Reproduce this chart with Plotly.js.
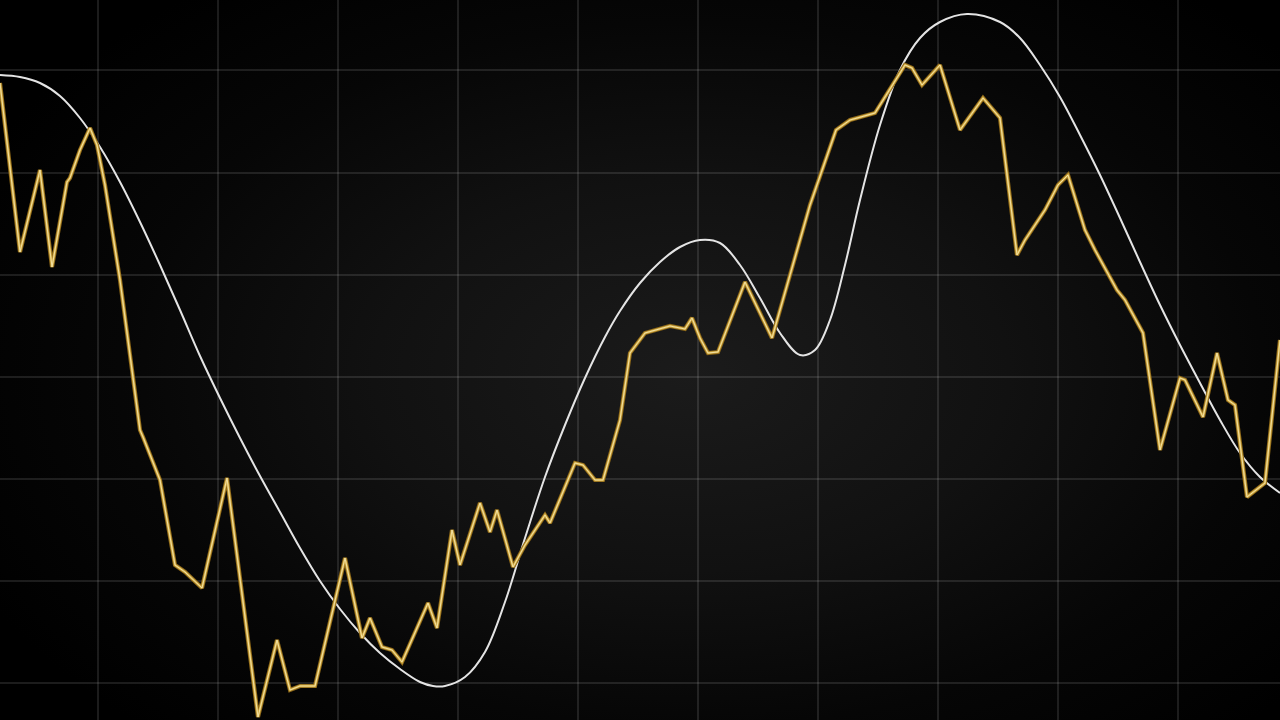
<!DOCTYPE html>
<html>
<head>
<meta charset="utf-8">
<script src="https://cdn.plot.ly/plotly-3.0.1.min.js"></script>
<style>
  html, body { margin: 0; padding: 0; width: 1280px; height: 720px; overflow: hidden;
    background: radial-gradient(ellipse 62% 68% at 54% 52%, #1b1b1b 0%, #111111 40%, #060606 72%, #000 100%); }
  #chart { width: 1280px; height: 720px; }
</style>
</head>
<body>
<div id="chart"></div>
<script>
// Jagged gold price series (time, value)
const goldTime = [0,2,4,5.2,6.7,7,8,9,9.7,10.5,12,13.3,14,14.3,16,17.5,18.5,20.2,22.7,25.8,27.7,29,30,31.5,34.5,36.2,37,38.2,39.2,40.2,42.8,43.7,45.2,46,48,49,49.7,51.3,52.5,54.5,55,57.5,58.3,59.5,60.3,62,63,64.5,67,68.5,69.2,70,70.8,71.8,74.5,77.2,79,81,83.6,85,87.5,90.5,91.2,92.2,94,96,98.3,100,101.7,102.5,104.5,105.8,106.8,108.5,109.5,111.7,112.5,114.3,116,118,118.5,120.3,121.7,122.8,123.5,124.7,126.5,128];
const goldValue = [63.7,46.8,55,45.3,53.8,54.2,57,59.2,57.5,53.5,44,34,29,28.3,24,15.5,14.8,13.2,24.2,0.3,8,3,3.4,3.4,16.2,8.2,10.2,7.3,7,5.8,11.7,9.2,19,15.5,21.7,18.8,21,15.3,17.5,20.5,19.7,25.7,25.5,24,24,30,36.7,38.7,39.4,39.1,40.2,38.2,36.7,36.8,43.8,38.2,44.5,51.5,59,60,60.7,65.5,65.2,63.5,65.5,59,62.2,60.2,46.5,48,51,53.5,54.5,49,47,43,42,38.7,27,34.2,34,30.3,36.7,32,31.5,22.3,23.7,38];

// Smooth white trend series (time, value)
const trendTime = [0,2,4,6,8,10,12,14,16,18,20,22,24,26,28,30,32,34,36,38,40,42,43.3,44.5,46.5,48.5,50.5,52.5,54.5,56.5,58.5,60.5,62,64,66,68,70,72,74,76,78,80,81.5,83,84.5,86,88,90,92,94,96.7,100,102,104,106,108,110,112,114,116,118,120,122,124,126,128];
const trendValue = [64.5,64.3,63.7,62.4,60.2,57.3,53.8,49.8,45.5,41,36.4,32.2,28.2,24.4,20.8,17.2,13.9,11.1,8.7,6.7,5.1,3.8,3.4,3.4,4.3,6.8,11.8,18.2,24.3,29.5,34.2,38.3,40.9,43.7,45.8,47.3,48,47.7,45.5,42.2,38.7,36.5,37,40,45.5,52,59.5,65,68.2,69.8,70.6,69.8,68.2,65.5,62.3,58.5,54.5,50.2,45.8,41.5,37.5,33.7,30,26.7,24.3,22.7];

const traces = [
  { x: trendTime, y: trendValue, type: 'scatter', mode: 'lines',
    line: { color: '#e4e4e4', width: 2, shape: 'spline', smoothing: 1 }, hoverinfo: 'skip' },
  { x: goldTime, y: goldValue, type: 'scatter', mode: 'lines',
    line: { color: '#8c6719', width: 4.2, shape: 'linear' }, hoverinfo: 'skip' },
  { x: goldTime, y: goldValue, type: 'scatter', mode: 'lines',
    line: { color: '#d4ae48', width: 2.4, shape: 'linear' }, hoverinfo: 'skip' },
  { x: goldTime, y: goldValue, type: 'scatter', mode: 'lines',
    line: { color: '#f6e7ab', width: 0.9, shape: 'linear' }, hoverinfo: 'skip' }
];

const gridCol = 'rgba(255,255,255,0.11)';
const layout = {
  width: 1280, height: 720,
  margin: { l: 0, r: 0, t: 0, b: 0, pad: 0 },
  paper_bgcolor: 'rgba(0,0,0,0)', plot_bgcolor: 'rgba(0,0,0,0)',
  showlegend: false,
  xaxis: { range: [0, 128], showgrid: true, gridcolor: gridCol, gridwidth: 2,
    tick0: 9.8, dtick: 12, showticklabels: false, ticks: '', zeroline: false, showline: false, fixedrange: true },
  yaxis: { range: [0, 72], showgrid: true, gridcolor: gridCol, gridwidth: 2,
    tick0: 3.7, dtick: 10.21, showticklabels: false, ticks: '', zeroline: false, showline: false, fixedrange: true }
};

Plotly.newPlot('chart', traces, layout, { displayModeBar: false, staticPlot: true });
</script>
</body>
</html>
